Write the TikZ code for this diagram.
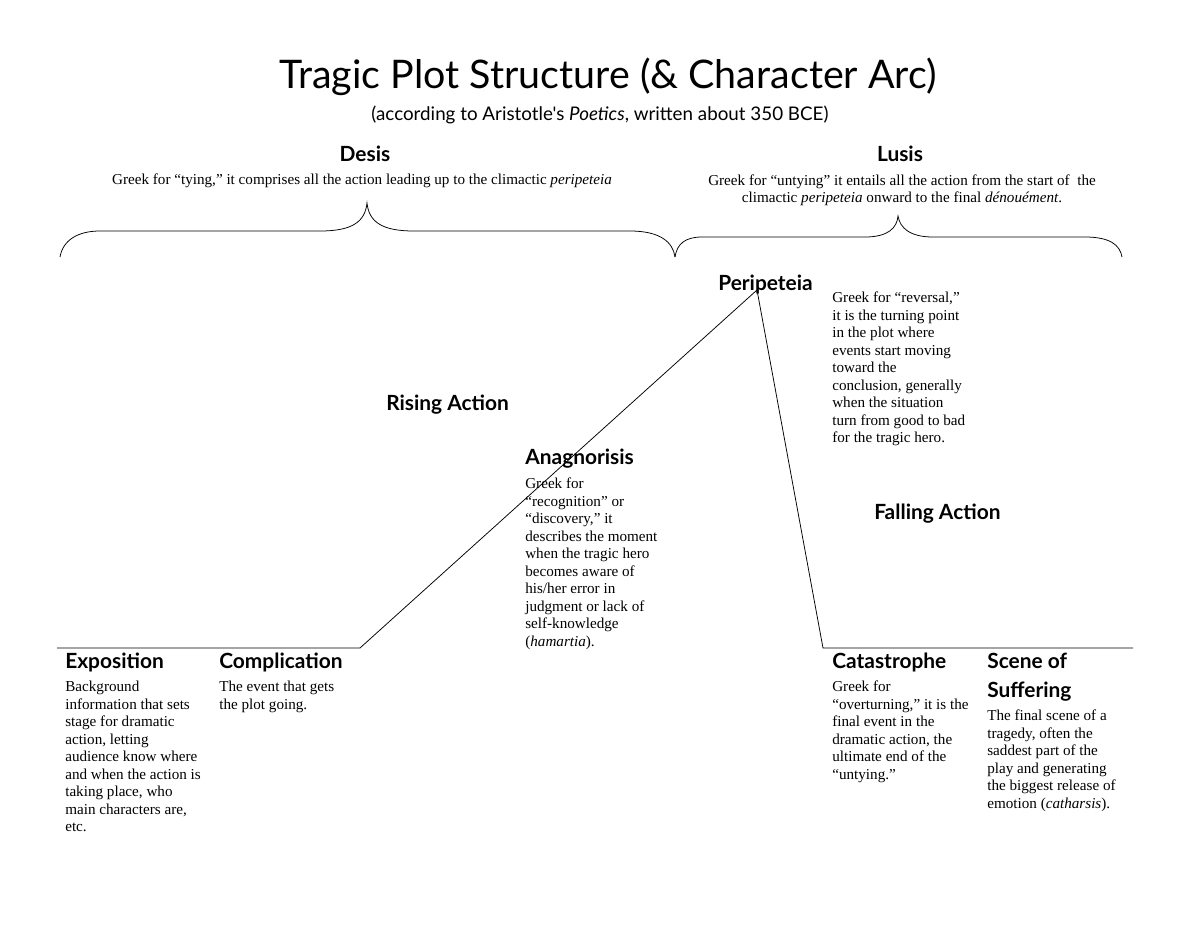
\documentclass[tikz,border=0pt]{standalone}
\usepackage{fontspec}
\setmainfont{Liberation Serif}
\newfontfamily\headfont{Lato}
\begin{document}
\begin{tikzpicture}[x=0.66pt,y=-0.66pt,
  head/.style={font=\headfont\bfseries\fontsize{13.8}{19}\selectfont, inner sep=0pt, anchor=base west},
  body/.style={font=\fontsize{10}{11.55}\selectfont, inner sep=0pt, anchor=north west, align=left},
  topdesc/.style={font=\fontsize{10}{11.2}\selectfont, inner sep=0pt, anchor=north, align=center},
  plotline/.style={line width=0.5pt},
  bracket/.style={line width=0.5pt}]
\useasboundingbox (0,0) rectangle (1200,927);
% titles
\node[font=\headfont\fontsize{26}{30}\selectfont, anchor=base, inner sep=0pt] (title) at (608,88) {Tragic Plot Structure (\& Character Arc)};
\node[font=\headfont\fontsize{12.4}{14}\selectfont, anchor=base, inner sep=0pt] (subtitle) at (600,120) {(according to Aristotle's \textit{Poetics}, written about 350 BCE)};
% Desis / Lusis
\node[head, anchor=base] (desis) at (365,161) {Desis};
\node[topdesc] (desisd) at (362,174) {Greek for “tying,” it comprises all the action leading up to the climactic \textit{peripeteia}};
\node[head, anchor=base] (lusis) at (900,161) {Lusis};
\node[topdesc] (lusisd) at (902,175) {Greek for “untying” it entails all the action from the start of \ the\\climactic \textit{peripeteia} onward to the final \textit{dénouément}.};
% braces
\draw[bracket] (60,257) .. controls (63,240) and (78,231) .. (100,231) -- (320,231)
  .. controls (352,231) and (365,222) .. (367,203)
  .. controls (369,222) and (382,231) .. (414,231) -- (630,231)
  .. controls (660,231) and (673,242) .. (675,257);
\draw[bracket] (675,257) .. controls (677,244) and (685,237) .. (702,237) -- (865,237)
  .. controls (888,237) and (897,228) .. (898,216)
  .. controls (900,228) and (910,237) .. (933,237) -- (1085,237)
  .. controls (1110,237) and (1120,245) .. (1122,257);
% plot line
\coordinate (start) at (57,648);
\coordinate (compl) at (360,648);
\coordinate (peak) at (757,290);
\coordinate (catas) at (823,648);
\coordinate (finish) at (1133,648);
\draw[plotline] (start) -- (compl) -- (peak) -- (catas) -- (finish);
% section labels
\node[head] (rising) at (386,410) {Rising Action};
\node[head] (falling) at (874,519) {Falling Action};
% Peripeteia
\node[head] (peri) at (718,290) {Peripeteia};
\node[body] (perib) at (832,292) {Greek for “reversal,”\\it is the turning point\\in the plot where\\events start moving\\toward the\\conclusion, generally\\when the situation\\turn from good to bad\\for the tragic hero.};
% Anagnorisis
\node[head] (anag) at (525,464) {Anagnorisis};
\node[body] (anagb) at (525,478) {Greek for\\“recognition” or\\“discovery,” it\\describes the moment\\when the tragic hero\\becomes aware of\\his/her error in\\judgment or lack of\\self-knowledge\\(\textit{hamartia}).};
% Exposition
\node[head] (expo) at (65,668) {Exposition};
\node[body] (expob) at (65,681) {Background\\information that sets\\stage for dramatic\\action, letting\\audience know where\\and when the action is\\taking place, who\\main characters are,\\etc.};
% Complication
\node[head] (comp) at (219,668) {Complication};
\node[body] (compb) at (219,681) {The event that gets\\the plot going.};
% Catastrophe
\node[head] (cata) at (832,668) {Catastrophe};
\node[body] (catab) at (832,681) {Greek for\\“overturning,” it is the\\final event in the\\dramatic action, the\\ultimate end of the\\“untying.”};
% Scene of Suffering
\node[head, anchor=north west, align=left] (scene) at (987,653) {Scene of\\Suffering};
\node[body] (sceneb) at (987,710) {The final scene of a\\tragedy, often the\\saddest part of the\\play and generating\\the biggest release of\\emotion (\textit{catharsis}).};
\end{tikzpicture}
\end{document}
